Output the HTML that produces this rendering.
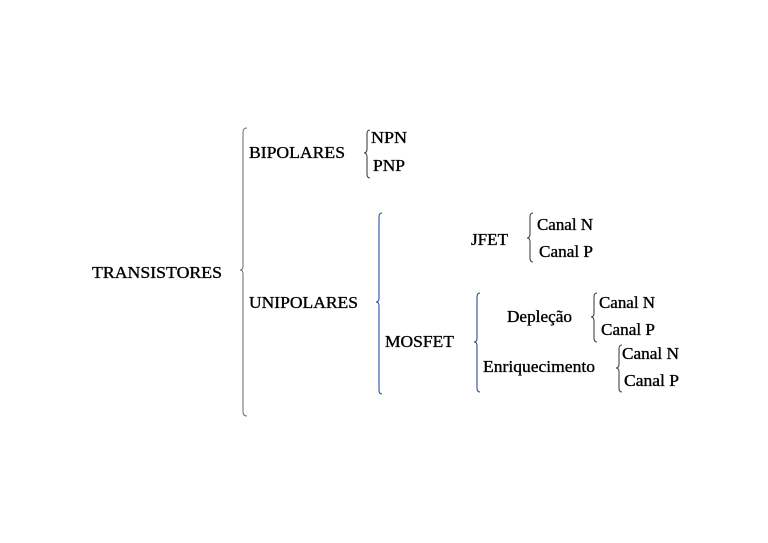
<!DOCTYPE html>
<html><head><meta charset="utf-8"><style>
html,body{margin:0;padding:0;background:#fff;}
svg{display:block;}
text{font-family:"Liberation Serif",serif;font-size:17px;fill:#000;stroke:#000;stroke-width:0.35;}
</style></head><body>
<svg width="768" height="543" viewBox="0 0 768 543" xmlns="http://www.w3.org/2000/svg">
<g fill="none" stroke-width="1.1">
<path stroke="#777" d="M247,128 Q243,128 243,132 L243,266 Q243,270 240,270 Q243,270 243,274 L243,412 Q243,416 247,416"/>
<path stroke="#444" d="M370,130 Q367,130 367,134 L367,149 Q367,153 364,153 Q367,153 367,157 L367,174 Q367,178 370,178"/>
<path stroke="#2a4fb0" d="M382,213 Q379,213 379,217 L379,298 Q379,302 376,302 Q379,302 379,306 L379,390 Q379,394 382,394"/>
<path stroke="#2a4a90" d="M480,293 Q477,293 477,297 L477,338 Q477,342 474,342 Q477,342 477,346 L477,388 Q477,392 480,392"/>
<path stroke="#444" d="M533,213 Q530,213 530,217 L530,234 Q530,238 527,238 Q530,238 530,242 L530,258 Q530,262 533,262"/>
<path stroke="#444" d="M597,293 Q594,293 594,297 L594,313 Q594,317 591,317 Q594,317 594,321 L594,338 Q594,342 597,342"/>
<path stroke="#444" d="M622,345 Q619,345 619,349 L619,364 Q619,368 616,368 Q619,368 619,372 L619,388 Q619,392 622,392"/>
</g>
<text x="92" y="278" textLength="130" lengthAdjust="spacingAndGlyphs">TRANSISTORES</text>
<text x="249" y="158" textLength="96" lengthAdjust="spacingAndGlyphs">BIPOLARES</text>
<text x="371" y="143" textLength="36" lengthAdjust="spacingAndGlyphs">NPN</text>
<text x="373" y="171" textLength="32" lengthAdjust="spacingAndGlyphs">PNP</text>
<text x="249" y="308" textLength="109" lengthAdjust="spacingAndGlyphs">UNIPOLARES</text>
<text x="385" y="347" textLength="69" lengthAdjust="spacingAndGlyphs">MOSFET</text>
<text x="471" y="245" textLength="37" lengthAdjust="spacingAndGlyphs">JFET</text>
<text x="537" y="230" textLength="56" lengthAdjust="spacingAndGlyphs">Canal N</text>
<text x="539" y="257" textLength="54" lengthAdjust="spacingAndGlyphs">Canal P</text>
<text x="507" y="322" textLength="65" lengthAdjust="spacingAndGlyphs">Depleção</text>
<text x="599" y="308" textLength="56" lengthAdjust="spacingAndGlyphs">Canal N</text>
<text x="601" y="335" textLength="54" lengthAdjust="spacingAndGlyphs">Canal P</text>
<text x="483" y="372" textLength="112" lengthAdjust="spacingAndGlyphs">Enriquecimento</text>
<text x="622" y="359" textLength="57" lengthAdjust="spacingAndGlyphs">Canal N</text>
<text x="624" y="386" textLength="55" lengthAdjust="spacingAndGlyphs">Canal P</text>
</svg>
</body></html>
